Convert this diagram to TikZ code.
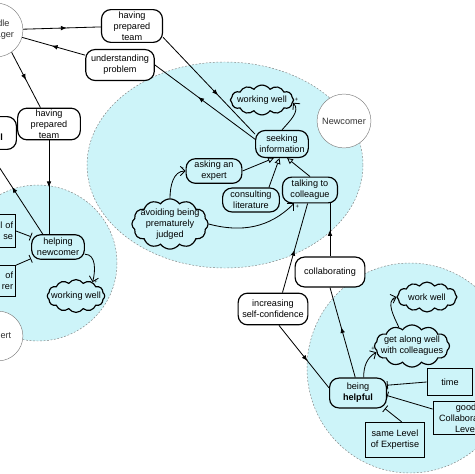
\documentclass[tikz,border=0pt]{standalone}
\usepackage{fontspec}
\setmainfont{Liberation Sans}
\usetikzlibrary{shapes.symbols,arrows.meta,decorations.markings,backgrounds}
\definecolor{regioncyan}{RGB}{205,244,249}
\newcommand{\diagfont}{\fontsize{7.8}{9.4}\selectfont}
\tikzset{
  concept/.style={draw, line width=1pt, rectangle, rounded corners=8pt, align=center, font=\diagfont, inner sep=1pt, fill=white},
  incyan/.style={fill=regioncyan},
  wish/.style={draw, line width=1pt, cloud, cloud puffs=12, cloud puff arc=110, cloud ignores aspect, align=center, font=\diagfont, inner xsep=-6pt, inner ysep=0pt, fill=regioncyan},
  factor/.style={draw, line width=1pt, rectangle, align=center, font=\diagfont, fill=regioncyan, inner sep=2pt},
  actor/.style={draw=gray, circle, align=center, font=\diagfont, text=black!80, fill=white, inner sep=0pt},
  region/.style={draw=gray, dashed, dash pattern=on 1.5pt off 1.5pt, fill=regioncyan},
  link/.style={line width=0.7pt},
  midarrow/.style={postaction={decorate}, decoration={markings, mark=at position #1 with {\arrow{Latex[length=5pt,width=4pt]}}}},
  influence/.style={-{Straight Barb[length=4pt]}, line width=0.7pt},
  support/.style={-{Triangle[open,length=5pt,width=5pt]}, line width=0.7pt},
  block/.style={-{Bar[width=7pt]}, line width=0.7pt},
  sign/.style={font=\tiny, inner sep=1pt},
}
\begin{document}
\begin{tikzpicture}[x=0.03cm, y=-0.03cm]
\useasboundingbox (0,0) rectangle (474,474);

% actors
\node[actor, minimum size=46pt] (mm) at (-4,30) {Middle\\Manager};
\node[actor, minimum size=46pt] (newcomer) at (344,121) {Newcomer};
\node[actor, minimum size=42.5pt] (expert) at (-2,336) {Expert};

% middle manager side
\node[concept, minimum width=52pt, minimum height=28pt] (havingT) at (132,26) {having\\prepared\\team};
\node[concept, minimum width=58.6pt, minimum height=26.4pt] (understanding) at (120,65) {understanding\\problem};
\node[concept, minimum width=53.5pt, minimum height=27pt] (havingL) at (49,124) {having\\prepared\\team};
\node[concept, minimum width=48.5pt, minimum height=28pt] (helpfulL) at (-12,133) {being\\\textbf{helpful}};

% expert region
\node[factor, anchor=east, text width=34pt, align=right, minimum height=28pt] (box1) at (16,231) {l of\\se};
\node[factor, anchor=east, text width=34pt, align=right, minimum height=26pt] (box2) at (16,281) {of\\rer};
\node[concept, incyan, minimum width=45pt, minimum height=21pt] (helping) at (58,247) {helping\\newcomer};
\node[wish, minimum width=49pt, minimum height=28pt] (wellL) at (76,296) {working well};

% newcomer region
\node[wish, minimum width=54pt, minimum height=25.5pt] (wellT) at (262,100) {working well};
\node[concept, incyan, minimum width=45pt, minimum height=23pt] (seeking) at (282,144) {seeking\\information};
\node[concept, incyan, minimum width=47.6pt, minimum height=21pt] (asking) at (214,171) {asking an\\expert};
\node[concept, incyan, minimum width=48.5pt, minimum height=20.4pt] (consulting) at (251,200) {consulting\\literature};
\node[concept, incyan, minimum width=47pt, minimum height=22pt] (talking) at (310,190) {talking to\\colleague};
\node[wish, minimum width=65pt, minimum height=36pt] (avoiding) at (170,224) {avoiding being\\prematurely\\judged};

% between
\node[concept, minimum width=59.5pt, minimum height=25.5pt] (collab) at (330,272) {collaborating};
\node[concept, minimum width=59.5pt, minimum height=27pt] (increasing) at (273,309) {increasing\\self-confidence};

% helpful region
\node[concept, incyan, minimum width=48.5pt, minimum height=25.5pt] (helpfulR) at (358,393) {being\\\textbf{helpful}};
\node[wish, minimum width=51pt, minimum height=25.5pt] (workwell) at (427,297) {work well};
\node[wish, minimum width=64pt, minimum height=36pt] (getalong) at (412,346) {get along well\\with colleagues};
\node[factor, minimum width=39pt, minimum height=23pt] (time) at (450,382) {time};
\node[factor, minimum width=56pt, minimum height=28pt] (good) at (466,418) {good\\Collaboration\\Level};
\node[factor, minimum width=51pt, minimum height=30pt] (same) at (395,440) {same Level\\of Expertise};

\begin{scope}[on background layer]
% regions
\path[region] (38,263) ellipse [x radius=79, y radius=78];
\path[region] (225,165) ellipse [x radius=138, y radius=103];
\path[region] (410,368) ellipse [x radius=103, y radius=105];

% connectors
\draw[link, midarrow=0.56] (mm) -- (havingT);
\draw[link, midarrow=0.53] (understanding) -- (mm);
\draw[link, midarrow=0.5] (mm.-55) -- (havingL);
\draw[link, midarrow=0.5] (havingL.south) -- (havingL.south |- helping.north);
\draw[link, midarrow=0.56] ([xshift=-13pt]helping.north) -- (helpfulL.south);
\draw[block] (box1.east) -- (helping);
\draw[block] (box2.north east) -- (helping);
\draw[influence] (helping.-15) to[out=0,in=75] (wellL.40) node[sign, right] {+};

\draw[link, midarrow=0.6] (havingT.-20) -- (seeking.160);
\draw[link, midarrow=0.57] (seeking.170) -- (understanding.east);
\draw[influence] (seeking.north) to[out=50,in=-50] (wellT.-5) node[sign, above right] {+};
\draw[support] (asking.east) -- (seeking.-120);
\draw[support] (consulting.35) -- (seeking.-100);
\draw[support] (talking.north) -- (seeking.-70);
\draw[influence] (avoiding.north) to[out=90,in=180] (asking.west) node[sign, above left] {-};
\draw[influence] (avoiding.east) to[out=-15,in=-135] (talking.-140) node[sign, below right] {+};
\draw[link, midarrow=0.48] (increasing.60) -- (talking.-100);
\draw[link, midarrow=0.5] (collab.north) -- (collab.north |- talking.south);

\draw[link, midarrow=0.56] (helpfulR.100) -- (collab.south);
\draw[link, midarrow=0.57] (increasing.-70) -- (helpfulR.170);
\draw[influence] (helpfulR.70) to[out=90,in=-150] (getalong.-170) node[sign, above left] {+};
\draw[influence] (getalong.125) to[out=115,in=-160] (workwell.west) node[sign, below left] {+};
\draw[block] (time.west) -- (helpfulR.15);
\draw[block] (good.165) -- (helpfulR.-5);
\draw[block] (same.70) -- (helpfulR.-30);
\end{scope}
\end{tikzpicture}
\end{document}
